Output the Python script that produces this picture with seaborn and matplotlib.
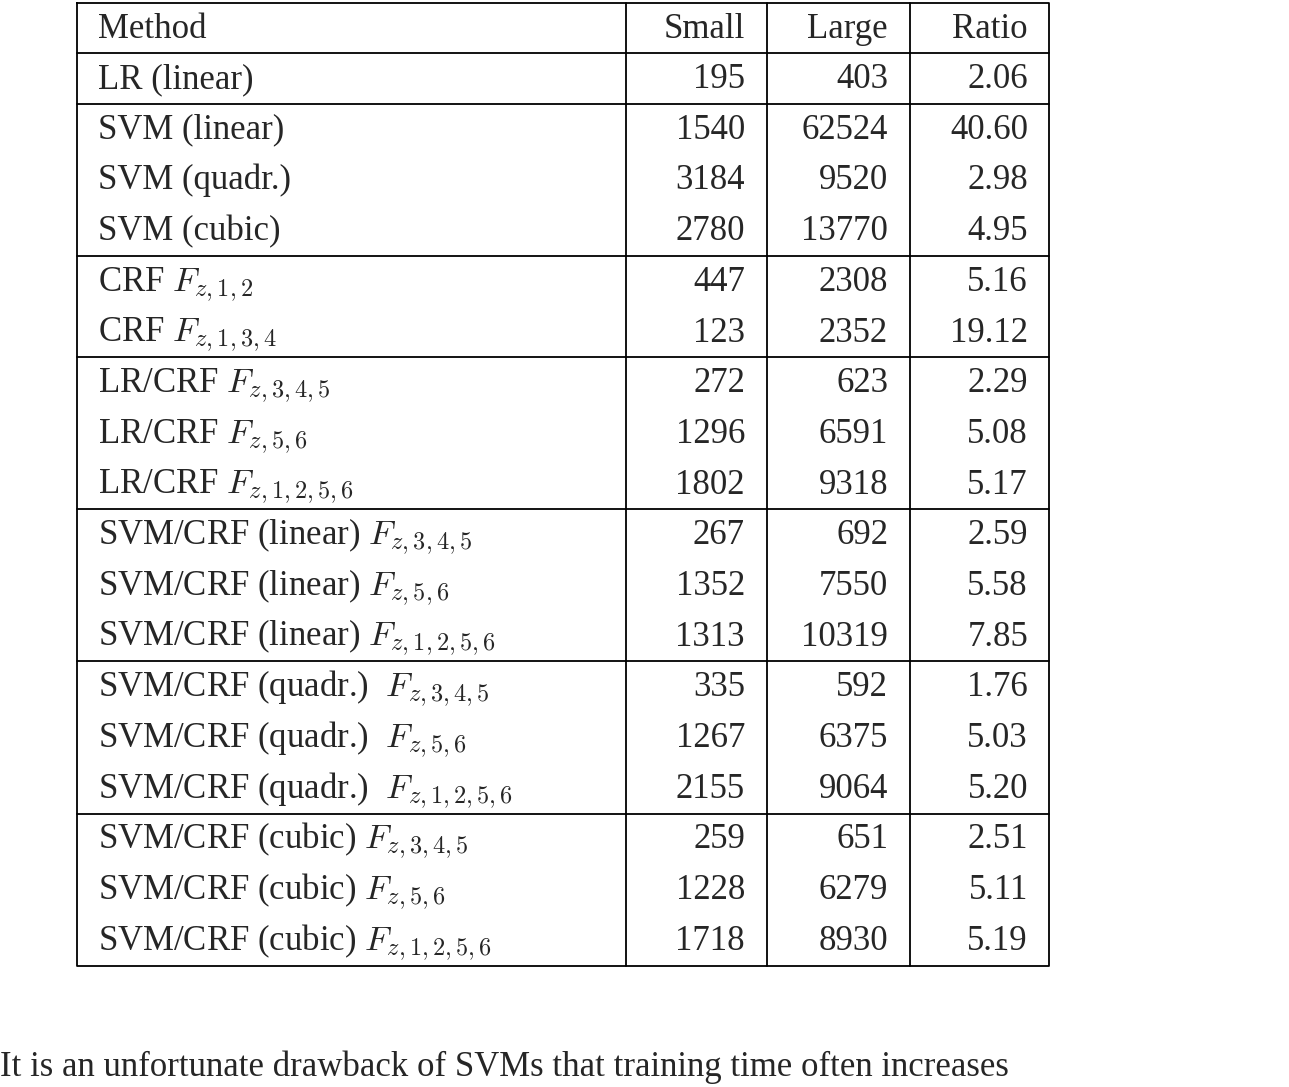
import matplotlib
matplotlib.use("Agg")
import matplotlib.pyplot as plt
import seaborn as sns

sns.set_style("white")
plt.rcParams['font.family'] = ['Liberation Serif', 'DejaVu Serif']
plt.rcParams['mathtext.fontset'] = 'cm'

# Table data
headers = ["Method", "Small", "Large", "Ratio"]
methods = [
    "LR (linear)",
    "SVM (linear)", "SVM (quadr.)", "SVM (cubic)",
    "CRF $F_{z,1,2}$", "CRF $F_{z,1,3,4}$",
    "LR/CRF $F_{z,3,4,5}$", "LR/CRF $F_{z,5,6}$", "LR/CRF $F_{z,1,2,5,6}$",
    "SVM/CRF (linear) $F_{z,3,4,5}$", "SVM/CRF (linear) $F_{z,5,6}$",
    "SVM/CRF (linear) $F_{z,1,2,5,6}$",
    "SVM/CRF (quadr.)  $F_{z,3,4,5}$", "SVM/CRF (quadr.)  $F_{z,5,6}$",
    "SVM/CRF (quadr.)  $F_{z,1,2,5,6}$",
    "SVM/CRF (cubic) $F_{z,3,4,5}$", "SVM/CRF (cubic) $F_{z,5,6}$",
    "SVM/CRF (cubic) $F_{z,1,2,5,6}$",
]
small = [195, 1540, 3184, 2780, 447, 123, 272, 1296, 1802,
         267, 1352, 1313, 335, 1267, 2155, 259, 1228, 1718]
large = [403, 62524, 9520, 13770, 2308, 2352, 623, 6591, 9318,
         692, 7550, 10319, 592, 6375, 9064, 651, 6279, 8930]
ratio = [2.06, 40.60, 2.98, 4.95, 5.16, 19.12, 2.29, 5.08, 5.17,
         2.59, 5.58, 7.85, 1.76, 5.03, 5.20, 2.51, 5.11, 5.19]
group_ends = [0, 3, 5, 8, 11, 14, 17]
caption = "It is an unfortunate drawback of SVMs that training time often increases"

fig = plt.figure(figsize=(12.89, 10.87), dpi=100)
ax = fig.add_axes([0, 0, 1, 1])
ax.set_xlim(0, 1289)
ax.set_ylim(1087, 0)
ax.axis("off")

left, right, top, head_bot = 77, 1049, 3, 53
col_sep = [626, 767, 910]
row_h = 50.7
bottom = head_bot + row_h * len(methods)
fs = 25
lw = 1.3

# outer frame and column lines
ax.plot([left, right, right, left, left], [top, top, bottom, bottom, top], color="black", lw=lw)
for x in col_sep:
    ax.plot([x, x], [top, bottom], color="black", lw=lw)
ax.plot([left, right], [head_bot, head_bot], color="black", lw=lw)
for g in group_ends[:-1]:
    y = head_bot + row_h * (g + 1)
    ax.plot([left, right], [y, y], color="black", lw=lw)

num_x = [745, 888, 1028]
ax.text(98, 38, headers[0], fontsize=fs, va="baseline")
ax.text(num_x[0], 38, headers[1], fontsize=fs, ha="right", va="baseline")
ax.text(num_x[1], 38, headers[2], fontsize=fs, ha="right", va="baseline")
ax.text(num_x[2], 38, headers[3], fontsize=fs, ha="right", va="baseline")

for i, m in enumerate(methods):
    yb = head_bot + row_h * i + 35
    ax.text(98, yb, m, fontsize=fs, va="baseline")
    ax.text(num_x[0], yb, str(small[i]), fontsize=fs, ha="right", va="baseline")
    ax.text(num_x[1], yb, str(large[i]), fontsize=fs, ha="right", va="baseline")
    ax.text(num_x[2], yb, f"{ratio[i]:.2f}", fontsize=fs, ha="right", va="baseline")

ax.text(0, 1076, caption, fontsize=fs, va="baseline")

fig.savefig("out.png", dpi=100)
